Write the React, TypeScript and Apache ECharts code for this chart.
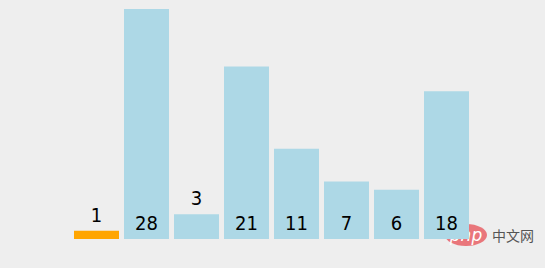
import React, { useEffect, useRef } from "react";
import * as echarts from "echarts";

const categories = ["a", "b", "c", "d", "e", "f", "g", "h"];
const values = [1, 28, 3, 21, 11, 7, 6, 18];
const highlightIndex = 0;
const smallThreshold = 3;

const BAR_BLUE = "#add8e6";
const BAR_ORANGE = "#ffa500";

export default function App() {
  const ref = useRef<HTMLDivElement>(null);

  useEffect(() => {
    if (!ref.current) return;
    const chart = echarts.init(ref.current, undefined, { renderer: "svg" });

    const data = values.map((v, i) => {
      const outside = v <= smallThreshold;
      return {
        value: v,
        itemStyle: { color: i === highlightIndex ? BAR_ORANGE : BAR_BLUE },
        label: {
          show: true,
          position: outside ? "top" : "insideBottom",
          distance: outside ? 6 : 6,
          color: "#000",
          fontSize: 20,
          fontFamily: "DejaVu Sans Condensed, DejaVu Sans, sans-serif",
        },
      };
    });

    chart.setOption({
      animation: false,
      backgroundColor: "#eeeeee",
      grid: { left: 71.5, width: 400, top: 9, bottom: 29 },
      xAxis: {
        type: "category",
        data: categories,
        show: false,
      },
      yAxis: {
        type: "value",
        min: 0,
        max: 28,
        show: false,
      },
      series: [
        {
          type: "bar",
          data,
          barWidth: 45,
          barCategoryGap: 5,
        },
      ],
      graphic: [
        {
          type: "ellipse",
          shape: { cx: 466, cy: 235, rx: 21, ry: 11 },
          style: { fill: "rgba(232, 96, 102, 0.85)" },
          silent: true,
        },
        {
          type: "text",
          x: 466,
          y: 235,
          style: {
            text: "php",
            fill: "#ffffff",
            font: "italic 17px 'DejaVu Sans', sans-serif",
            align: "center",
            verticalAlign: "middle",
          },
          silent: true,
        },
        {
          type: "text",
          x: 492,
          y: 235,
          style: {
            text: "中文网",
            fill: "#555555",
            font: "14px 'Noto Sans CJK SC', sans-serif",
            align: "left",
            verticalAlign: "middle",
          },
          silent: true,
        },
      ],
    });

    return () => chart.dispose();
  }, []);

  return (
    <div
      ref={ref}
      style={{ position: "fixed", left: 0, top: 0, width: 545, height: 268 }}
    />
  );
}
